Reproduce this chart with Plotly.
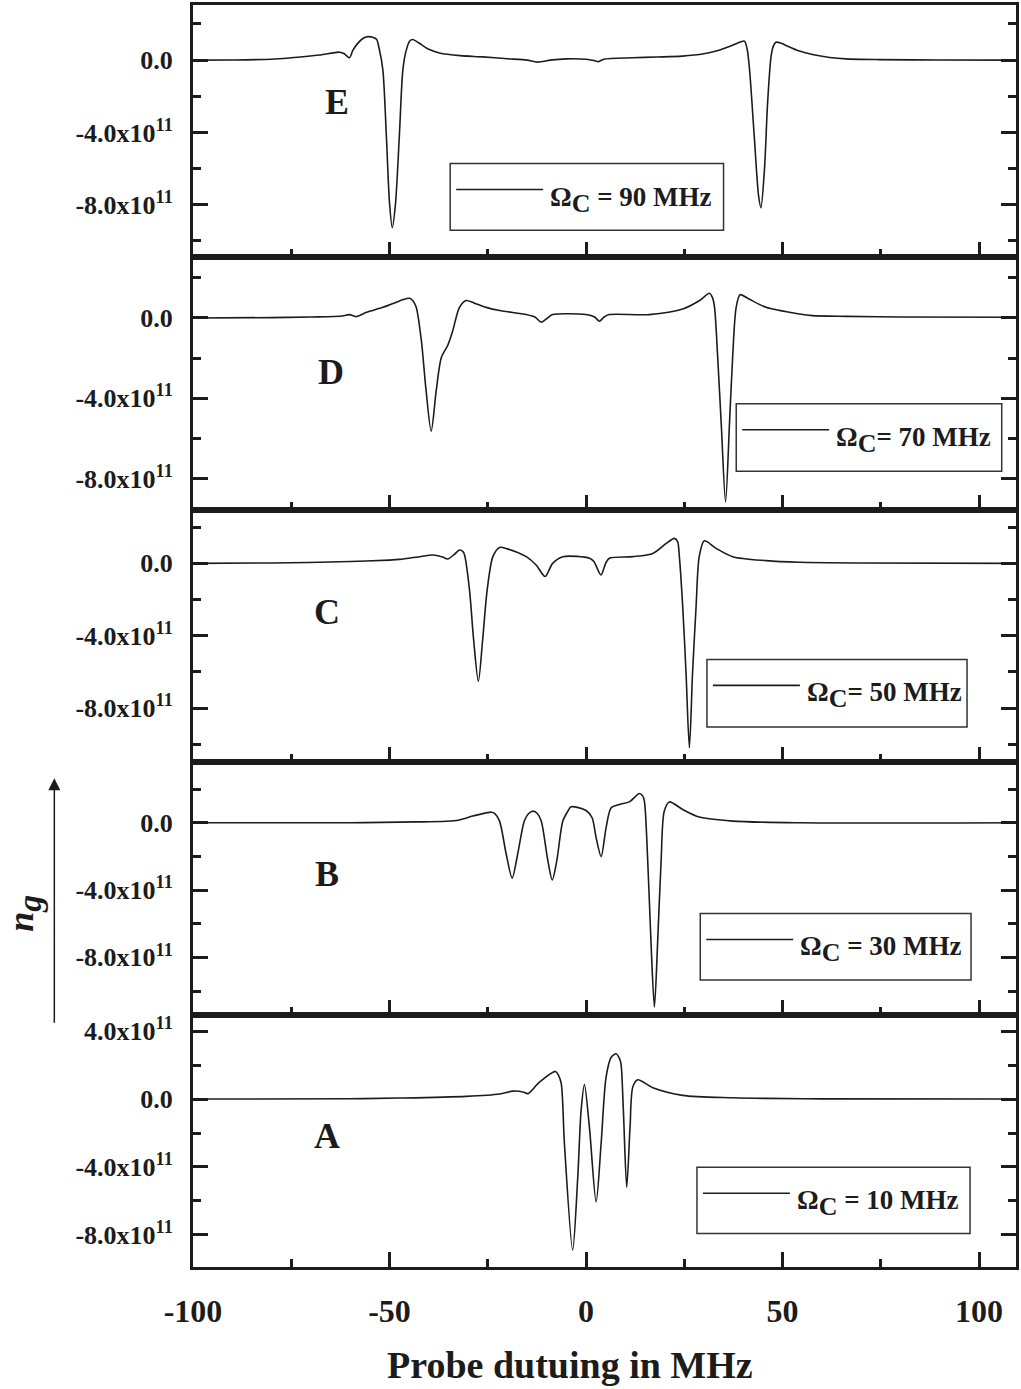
import numpy as np
import plotly.graph_objects as go
from plotly.subplots import make_subplots

# ---------------- data (x in MHz, n_g in units of 1e11) ----------------
x_E = [-100, -90, -80, -75, -67.8, -62.7, -61.5, -60.2, -59.3, -58.2, -56.8, -55.5, -54.3, -53.3, -52.6,
       -51.7, -50.8, -50.0, -49.3, -48.5, -47.5, -46.6, -45.8, -44.9, -44.1, -42.5, -40, -37.3, -32, -26.3,
       -20, -15, -12.4, -9, -5.1, 0, 2, 3.2, 4.5, 11.8, 18, 24.5, 30, 33.1, 37, 39.2, 40.3, 41.0, 41.6,
       42.8, 43.9, 44.5, 45.4, 46.2, 47.1, 47.7, 48.3, 49.5, 51, 54.3, 57.6, 62, 66.1, 74.6, 90, 109.4]
y_E = [0, 0.01, 0.05, 0.13, 0.28, 0.44, 0.35, 0.13, 0.55, 0.9, 1.2, 1.3, 1.27, 1.15, 0.6,
       -0.52, -4.2, -7.9, -9.27, -8.0, -4.2, -0.52, 0.5, 1.05, 1.14, 0.95, 0.6, 0.4, 0.25, 0.18,
       0.08, 0.0, -0.11, 0.0, 0.07, 0.05, -0.02, -0.08, 0.05, 0.13, 0.17, 0.22, 0.35, 0.5, 0.8, 1.0, 1.05, 0.6, -0.52,
       -4.2, -7.5, -8.16, -6.04, -2.36, 0.23, 0.8, 0.99, 0.95, 0.8, 0.5, 0.31, 0.15, 0.07, 0.03, 0.01, 0.0]

x_D = [-100, -80, -70, -62, -60.2, -58.5, -55.9, -51.7, -48.3, -46.5, -44.9, -44.0, -43.2, -41.9, -40.7,
       -39.4, -38.1, -36.8, -35.2, -33.9, -32.2, -30.5, -28.5, -25.4, -22.0, -15.2, -13, -11.4, -9.8, -8.5,
       0.0, 2.2, 3.4, 4.6, 5.9, 16.1, 24.6, 28.9, 31.4, 32.2, 32.7, 33.5, 34.4, 35.5, 36.5, 37.3, 38.2,
       39.2, 41, 45.8, 54.3, 57.6, 66.1, 80, 109.4]
y_D = [0, 0.02, 0.05, 0.1, 0.17, 0.07, 0.28, 0.53, 0.78, 0.92, 0.98, 0.85, 0.53, -1.12, -3.61,
       -5.64, -3.6, -1.96, -1.37, -0.63, 0.53, 0.87, 0.75, 0.53, 0.37, 0.17, 0.05, -0.21, 0.0, 0.17,
       0.17, 0.05, -0.16, 0.05, 0.17, 0.17, 0.45, 0.87, 1.23, 1.0, 0.53, -1.96, -5.27, -9.17, -5.27, -1.96, 0.53,
       1.16, 1.0, 0.53, 0.2, 0.12, 0.08, 0.05, 0.04]

x_C = [-100, -80, -60, -50, -47.45, -42, -39.0, -36.5, -35.2, -33.5, -32.2, -31.3, -30.9, -29.65, -28.6,
       -27.4, -26.3, -25.15, -23.7, -22.0, -20, -15.2, -12.7, -10.4, -8.5, -5.9, 0.9, 2.0, 3.8, 5.0,
       5.95, 11.9, 17.0, 20.4, 22.5, 23.3, 23.75, 24.6, 25.45, 26.3, 27.1, 28.0, 28.8, 30.1, 33.1, 37.3,
       45.8, 54.3, 70, 109.4]
y_C = [0, 0.02, 0.1, 0.18, 0.22, 0.38, 0.46, 0.35, 0.24, 0.5, 0.74, 0.65, 0.46, -1.47, -4.22,
       -6.52, -4.22, -1.47, 0.37, 0.88, 0.8, 0.37, -0.09, -0.73, 0.0, 0.37, 0.28, 0.1, -0.64, 0.0,
       0.28, 0.37, 0.55, 1.10, 1.38, 1.2, 0.37, -2.39, -6.07, -10.2, -6.07, -2.39, 0.37, 1.25, 0.83, 0.37,
       0.15, 0.06, 0.02, 0.0]

x_B = [-100, -60, -47.45, -33.0, -28.8, -24.1, -23.2, -22.0, -20.3, -18.8, -17.4, -15.7, -14.6, -13.4, -12.4,
       -11.4, -9.7, -8.6, -7.45, -5.9, -4.6, -3.8, 0.0, 1.55, 2.57, 3.84, 5.1, 6.4, 8.5, 11.0, 13.6, 14.4,
       14.85, 15.7, 16.55, 17.4, 18.2, 19.1, 19.9, 21.2, 24.6, 28.8, 37.3, 54.3, 109.4]
y_B = [0, 0.0, 0.04, 0.14, 0.4, 0.63, 0.55, 0.10, -1.87, -3.29, -1.87, 0.10, 0.55, 0.69, 0.55,
       0.10, -2.27, -3.40, -2.27, 0.10, 0.7, 0.95, 0.73, 0.30, -0.89, -2.01, -0.30, 0.89, 1.09, 1.24, 1.74, 1.6,
       1.29, -2.27, -7.21, -10.96, -7.21, -2.27, 0.69, 1.24, 0.79, 0.34, 0.10, 0.0, 0.0]

x_A = [-100, -60, -47.45, -30.5, -22, -18.6, -16, -14.8, -11.85, -7.8, -7.0, -6.3, -5.5, -3.4, -2.1,
       -1.25, -0.41, 0.86, 2.57, 3.84, 5.1, 6.4, 7.65, 8.5, 8.9, 9.5, 10.35, 11.2, 11.9, 13.15, 17.0,
       24.6, 37.3, 45.8, 60, 109.4]
y_A = [0, 0.02, 0.06, 0.16, 0.3, 0.47, 0.42, 0.32, 1.0, 1.63, 1.4, 0.91, -2.62, -8.9, -4.59,
       -0.66, 0.86, -1.65, -6.06, -2.62, 1.29, 2.47, 2.67, 2.4, 2.08, -0.66, -5.21, -1.65, 0.71, 1.14, 0.67,
       0.22, 0.08, 0.04, 0.01, 0.0]

panel_letters = ["E", "D", "C", "B", "A"]
omega_c = [90, 70, 50, 30, 10]
legend_eq = [" = 90 MHz", "= 70 MHz", "= 50 MHz", " = 30 MHz", " = 10 MHz"]
y_ranges = [[-10.91, 3.05], [-9.56, 3.02], [-10.99, 2.96], [-11.4, 3.6], [-9.9, 4.98]]
x_ticks = [-100, -50, 0, 50, 100]
x_minor = [-75, -25, 25, 75]
xs = [x_E, x_D, x_C, x_B, x_A]
ys = [y_E, y_D, y_C, y_B, y_A]

SCALE = 1e11
FONT = "Liberation Serif"
INK = "#1c1c1c"

fig = make_subplots(rows=5, cols=1, shared_xaxes=True, vertical_spacing=0)

# pixel -> paper helpers (plot area: x 193.3..1017, y 2..1267)
L, R, T, B = 193.3, 1017.0, 2.0, 1267.0
def px(xp):
    return (xp - L) / (R - L)
def py(yp):
    return (B - yp) / (B - T)

label_pos = [(337, 99), (331, 370), (327.5, 610.5), (327, 873.5), (327.5, 1135.7)]
legend_box = [(450.7, 161, 724.3, 227.7), (737, 401.7, 1002.7, 469.3), (707.7, 658, 968, 725.7),
              (701, 912.7, 972, 979.3), (697.7, 1167, 971, 1233.3)]

for i in range(5):
    row = i + 1
    fig.add_trace(go.Scatter(x=xs[i], y=np.array(ys[i]) * SCALE, mode="lines",
                             line=dict(color=INK, width=1.6, shape="spline", smoothing=0.8),
                             name=f"Ω_C = {omega_c[i]} MHz", showlegend=False),
                  row=row, col=1)
    lo, hi = y_ranges[i]
    major = [-8, -4, 0] + ([4] if hi > 4 else [])
    minor = [v for v in [-10, -6, -2, 2] if lo < v < hi]
    labels = []
    for v in major:
        if v == 0:
            labels.append("0.0")
        else:
            labels.append(f"{v:.1f}x10<sup>11</sup>")
    fig.update_yaxes(row=row, col=1, range=[lo * SCALE, hi * SCALE],
                     tickmode="array", tickvals=[v * SCALE for v in major], ticktext=labels,
                     ticks="inside", ticklen=15, tickwidth=3, tickcolor=INK,
                     showline=True, linewidth=3, linecolor=INK, mirror="ticks",
                     showgrid=False, zeroline=False, ticklabelstandoff=12,
                     tickfont=dict(family=FONT, size=26, color=INK, weight="bold"),
                     minor=dict(tickmode="array", tickvals=[v * SCALE for v in minor], ticks="inside",
                                ticklen=8, tickwidth=2.5, tickcolor=INK, showgrid=False))
    fig.update_xaxes(row=row, col=1, range=[-100, 109.4], tickmode="array", tickvals=x_ticks,
                     ticktext=[str(v) for v in x_ticks],
                     ticks="inside", ticklen=15, tickwidth=3, tickcolor=INK,
                     showline=True, linewidth=3, linecolor=INK, mirror=True,
                     showgrid=False, zeroline=False, showticklabels=(row == 5),
                     ticklabelstandoff=14,
                     tickfont=dict(family=FONT, size=32, color=INK, weight="bold"),
                     minor=dict(tickmode="array", tickvals=x_minor, ticks="inside",
                                ticklen=8, tickwidth=2.5, tickcolor=INK, showgrid=False))

    # panel letter
    lx, ly = label_pos[i]
    fig.add_annotation(x=px(lx), y=py(ly), xref="paper", yref="paper", text=f"<b>{panel_letters[i]}</b>",
                       showarrow=False, xanchor="center", yanchor="middle",
                       font=dict(family=FONT, size=36, color=INK))
    # legend box
    x0, y0, x1, y1 = legend_box[i]
    fig.add_shape(type="rect", xref="paper", yref="paper", x0=px(x0), x1=px(x1), y0=py(y0), y1=py(y1),
                  line=dict(color="#333333", width=1.5), fillcolor="rgba(0,0,0,0)")
    fig.add_shape(type="line", xref="paper", yref="paper", x0=px(x0 + 6), x1=px(x0 + 93),
                  y0=py(y0 + 26), y1=py(y0 + 26), line=dict(color=INK, width=1.6))
    fig.add_annotation(x=px(x0 + 98), y=py(y0 + 36), xref="paper", yref="paper",
                       text=f"<b>Ω<sub><span style='font-size:26px'>C</span></sub>{legend_eq[i]}</b>",
                       showarrow=False, xanchor="left", yanchor="middle",
                       font=dict(family=FONT, size=27, color=INK))

# y-axis title and arrow
fig.add_annotation(x=px(25), y=py(912), xref="paper", yref="paper",
                   text="<b><i>n<sub><span style='font-size:34px'>g</span></sub></i></b>",
                   textangle=-90, showarrow=False, xanchor="center", yanchor="middle",
                   font=dict(family=FONT, size=36, color=INK))
fig.add_annotation(x=px(54.5), y=py(777), xref="paper", yref="paper", text="", showarrow=True,
                   ax=0, ay=246, arrowhead=2, arrowsize=1.6, arrowwidth=1.5, arrowcolor=INK)

# x-axis title
fig.add_annotation(x=px(571), y=py(1365), xref="paper", yref="paper", text="<b>Probe dutuing in MHz</b>",
                   showarrow=False, xanchor="center", yanchor="middle",
                   font=dict(family=FONT, size=38, color=INK))

fig.update_layout(width=1021, height=1389, margin=dict(l=193, r=4, t=2, b=122),
                  paper_bgcolor="white", plot_bgcolor="white", showlegend=False,
                  font=dict(family=FONT, color=INK))

fig.write_html("out.html")
